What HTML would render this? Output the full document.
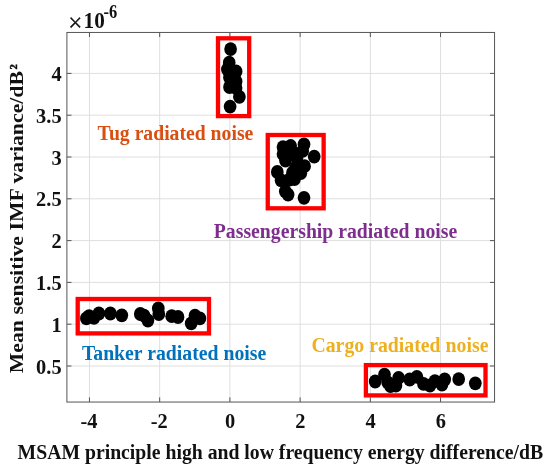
<!DOCTYPE html>
<html><head><meta charset="utf-8"><title>chart</title>
<style>
html,body{margin:0;padding:0;background:#fff;}
body{width:550px;height:470px;overflow:hidden;}
svg{display:block;}
text{font-family:"Liberation Serif","Times New Roman",serif;font-weight:bold;}
</style></head><body>
<svg width="550" height="470" viewBox="0 0 550 470">
<rect x="0" y="0" width="550" height="470" fill="#ffffff"/>
<g stroke="#dfdfdf" stroke-width="1" fill="none">
<line x1="89.46" y1="32.45" x2="89.46" y2="402.0"/>
<line x1="159.68" y1="32.45" x2="159.68" y2="402.0"/>
<line x1="229.9" y1="32.45" x2="229.9" y2="402.0"/>
<line x1="300.11" y1="32.45" x2="300.11" y2="402.0"/>
<line x1="370.33" y1="32.45" x2="370.33" y2="402.0"/>
<line x1="440.55" y1="32.45" x2="440.55" y2="402.0"/>
<line x1="66.9" y1="366.0" x2="494.55" y2="366.0"/>
<line x1="66.9" y1="324.2" x2="494.55" y2="324.2"/>
<line x1="66.9" y1="282.4" x2="494.55" y2="282.4"/>
<line x1="66.9" y1="240.6" x2="494.55" y2="240.6"/>
<line x1="66.9" y1="198.8" x2="494.55" y2="198.8"/>
<line x1="66.9" y1="157.0" x2="494.55" y2="157.0"/>
<line x1="66.9" y1="115.2" x2="494.55" y2="115.2"/>
<line x1="66.9" y1="73.4" x2="494.55" y2="73.4"/>
</g>
<rect x="66.9" y="32.45" width="427.65" height="369.6" fill="none" stroke="#555555" stroke-width="1"/>
<g stroke="#555555" stroke-width="1">
<line x1="89.46" y1="402.0" x2="89.46" y2="397.4"/><line x1="89.46" y1="32.45" x2="89.46" y2="37.050000000000004"/>
<line x1="159.68" y1="402.0" x2="159.68" y2="397.4"/><line x1="159.68" y1="32.45" x2="159.68" y2="37.050000000000004"/>
<line x1="229.9" y1="402.0" x2="229.9" y2="397.4"/><line x1="229.9" y1="32.45" x2="229.9" y2="37.050000000000004"/>
<line x1="300.11" y1="402.0" x2="300.11" y2="397.4"/><line x1="300.11" y1="32.45" x2="300.11" y2="37.050000000000004"/>
<line x1="370.33" y1="402.0" x2="370.33" y2="397.4"/><line x1="370.33" y1="32.45" x2="370.33" y2="37.050000000000004"/>
<line x1="440.55" y1="402.0" x2="440.55" y2="397.4"/><line x1="440.55" y1="32.45" x2="440.55" y2="37.050000000000004"/>
<line x1="66.9" y1="366.0" x2="71.5" y2="366.0"/><line x1="494.55" y1="366.0" x2="489.95" y2="366.0"/>
<line x1="66.9" y1="324.2" x2="71.5" y2="324.2"/><line x1="494.55" y1="324.2" x2="489.95" y2="324.2"/>
<line x1="66.9" y1="282.4" x2="71.5" y2="282.4"/><line x1="494.55" y1="282.4" x2="489.95" y2="282.4"/>
<line x1="66.9" y1="240.6" x2="71.5" y2="240.6"/><line x1="494.55" y1="240.6" x2="489.95" y2="240.6"/>
<line x1="66.9" y1="198.8" x2="71.5" y2="198.8"/><line x1="494.55" y1="198.8" x2="489.95" y2="198.8"/>
<line x1="66.9" y1="157.0" x2="71.5" y2="157.0"/><line x1="494.55" y1="157.0" x2="489.95" y2="157.0"/>
<line x1="66.9" y1="115.2" x2="71.5" y2="115.2"/><line x1="494.55" y1="115.2" x2="489.95" y2="115.2"/>
<line x1="66.9" y1="73.4" x2="71.5" y2="73.4"/><line x1="494.55" y1="73.4" x2="489.95" y2="73.4"/>
</g>
<g fill="none" stroke="#fe0000" stroke-width="4.3">
<rect x="218.0" y="38.3" width="31.2" height="77.8"/>
<rect x="267.75" y="135.0" width="55.9" height="73.3"/>
<rect x="77.7" y="299.0" width="131.3" height="34.4"/>
<rect x="365.9" y="365.1" width="119.6" height="30.3"/>
</g>
<g fill="#000">
<ellipse cx="230.6" cy="49.1" rx="6.35" ry="6.9"/>
<ellipse cx="229.2" cy="62.7" rx="6.35" ry="6.9"/>
<ellipse cx="227.4" cy="69.3" rx="6.35" ry="6.9"/>
<ellipse cx="236.1" cy="71.5" rx="6.35" ry="6.9"/>
<ellipse cx="229.5" cy="77.5" rx="6.35" ry="6.9"/>
<ellipse cx="236.1" cy="81.5" rx="6.35" ry="6.9"/>
<ellipse cx="229.5" cy="87.0" rx="6.35" ry="6.9"/>
<ellipse cx="236.1" cy="88.1" rx="6.35" ry="6.9"/>
<ellipse cx="239.4" cy="96.8" rx="6.35" ry="6.9"/>
<ellipse cx="230.1" cy="106.6" rx="6.35" ry="6.9"/>
<ellipse cx="293.2" cy="152.4" rx="6.35" ry="6.9"/>
<ellipse cx="283.0" cy="147.1" rx="6.35" ry="6.9"/>
<ellipse cx="290.6" cy="145.8" rx="6.35" ry="6.9"/>
<ellipse cx="304.0" cy="144.5" rx="6.35" ry="6.9"/>
<ellipse cx="283.0" cy="154.1" rx="6.35" ry="6.9"/>
<ellipse cx="302.7" cy="150.9" rx="6.35" ry="6.9"/>
<ellipse cx="314.2" cy="156.6" rx="6.35" ry="6.9"/>
<ellipse cx="285.5" cy="160.5" rx="6.35" ry="6.9"/>
<ellipse cx="297.0" cy="157.9" rx="6.35" ry="6.9"/>
<ellipse cx="304.6" cy="166.2" rx="6.35" ry="6.9"/>
<ellipse cx="295.7" cy="167.5" rx="6.35" ry="6.9"/>
<ellipse cx="277.3" cy="172.0" rx="6.35" ry="6.9"/>
<ellipse cx="300.8" cy="173.2" rx="6.35" ry="6.9"/>
<ellipse cx="292.5" cy="172.6" rx="6.35" ry="6.9"/>
<ellipse cx="281.1" cy="180.3" rx="6.35" ry="6.9"/>
<ellipse cx="294.5" cy="179.0" rx="6.35" ry="6.9"/>
<ellipse cx="285.3" cy="191.3" rx="6.35" ry="6.9"/>
<ellipse cx="288.1" cy="194.6" rx="6.35" ry="6.9"/>
<ellipse cx="289.6" cy="179.5" rx="6.35" ry="6.9"/>
<ellipse cx="304.0" cy="197.8" rx="6.35" ry="6.9"/>
<ellipse cx="86.4" cy="318.4" rx="6.35" ry="6.9"/>
<ellipse cx="89.1" cy="316.2" rx="6.35" ry="6.9"/>
<ellipse cx="94.0" cy="317.8" rx="6.35" ry="6.9"/>
<ellipse cx="98.9" cy="313.5" rx="6.35" ry="6.9"/>
<ellipse cx="110.4" cy="313.5" rx="6.35" ry="6.9"/>
<ellipse cx="121.8" cy="315.3" rx="6.35" ry="6.9"/>
<ellipse cx="140.3" cy="314.0" rx="6.35" ry="6.9"/>
<ellipse cx="144.1" cy="315.6" rx="6.35" ry="6.9"/>
<ellipse cx="147.9" cy="320.5" rx="6.35" ry="6.9"/>
<ellipse cx="158.3" cy="308.5" rx="6.35" ry="6.9"/>
<ellipse cx="158.8" cy="314.0" rx="6.35" ry="6.9"/>
<ellipse cx="171.7" cy="316.2" rx="6.35" ry="6.9"/>
<ellipse cx="178.0" cy="317.0" rx="6.35" ry="6.9"/>
<ellipse cx="191.2" cy="323.3" rx="6.35" ry="6.9"/>
<ellipse cx="195.0" cy="315.6" rx="6.35" ry="6.9"/>
<ellipse cx="199.9" cy="318.4" rx="6.35" ry="6.9"/>
<ellipse cx="375.2" cy="381.5" rx="6.35" ry="6.9"/>
<ellipse cx="384.5" cy="374.6" rx="6.35" ry="6.9"/>
<ellipse cx="387.7" cy="382.3" rx="6.35" ry="6.9"/>
<ellipse cx="390.5" cy="386.1" rx="6.35" ry="6.9"/>
<ellipse cx="395.9" cy="385.5" rx="6.35" ry="6.9"/>
<ellipse cx="398.6" cy="377.9" rx="6.35" ry="6.9"/>
<ellipse cx="409.7" cy="379.5" rx="6.35" ry="6.9"/>
<ellipse cx="416.9" cy="376.8" rx="6.35" ry="6.9"/>
<ellipse cx="423.5" cy="383.9" rx="6.35" ry="6.9"/>
<ellipse cx="430.0" cy="385.5" rx="6.35" ry="6.9"/>
<ellipse cx="434.9" cy="381.2" rx="6.35" ry="6.9"/>
<ellipse cx="442.0" cy="384.5" rx="6.35" ry="6.9"/>
<ellipse cx="444.7" cy="379.5" rx="6.35" ry="6.9"/>
<ellipse cx="458.7" cy="379.1" rx="6.35" ry="6.9"/>
<ellipse cx="475.3" cy="383.3" rx="6.35" ry="6.9"/>
</g>
<text transform="translate(88.96,427.9) scale(1,1.06)" text-anchor="middle" fill="#111111" font-size="20.4">-4</text>
<text transform="translate(159.18,427.9) scale(1,1.06)" text-anchor="middle" fill="#111111" font-size="20.4">-2</text>
<text transform="translate(230.20000000000002,427.9) scale(1,1.06)" text-anchor="middle" fill="#111111" font-size="20.4">0</text>
<text transform="translate(300.41,427.9) scale(1,1.06)" text-anchor="middle" fill="#111111" font-size="20.4">2</text>
<text transform="translate(370.63,427.9) scale(1,1.06)" text-anchor="middle" fill="#111111" font-size="20.4">4</text>
<text transform="translate(440.85,427.9) scale(1,1.06)" text-anchor="middle" fill="#111111" font-size="20.4">6</text>
<text transform="translate(61.6,373.6) scale(1,1.07)" text-anchor="end" fill="#111111" font-size="20.4">0.5</text>
<text transform="translate(61.6,331.8) scale(1,1.07)" text-anchor="end" fill="#111111" font-size="20.4">1</text>
<text transform="translate(61.6,290.0) scale(1,1.07)" text-anchor="end" fill="#111111" font-size="20.4">1.5</text>
<text transform="translate(61.6,248.2) scale(1,1.07)" text-anchor="end" fill="#111111" font-size="20.4">2</text>
<text transform="translate(61.6,206.4) scale(1,1.07)" text-anchor="end" fill="#111111" font-size="20.4">2.5</text>
<text transform="translate(61.6,164.6) scale(1,1.07)" text-anchor="end" fill="#111111" font-size="20.4">3</text>
<text transform="translate(61.6,122.8) scale(1,1.07)" text-anchor="end" fill="#111111" font-size="20.4">3.5</text>
<text transform="translate(61.6,81.0) scale(1,1.07)" text-anchor="end" fill="#111111" font-size="20.4">4</text>
<text transform="translate(68.2,30.5) scale(1,1.0)" text-anchor="start" fill="#111111" font-size="25" style="font-weight:normal" stroke="#111" stroke-width="0.3">×</text>
<text transform="translate(83.6,27.7) scale(1,1.05)" text-anchor="start" fill="#111111" font-size="21.2">10</text>
<text transform="translate(103.5,18.0) scale(1,1.086)" text-anchor="start" fill="#111111" font-size="16.5">-6</text>
<text transform="translate(97.6,139.8) scale(1,1.086)" text-anchor="start" fill="#d94f12" font-size="19.7">Tug radiated noise</text>
<text transform="translate(213.8,238.3) scale(1.002,1.086)" text-anchor="start" fill="#7e2f8e" font-size="19.7">Passengership radiated noise</text>
<text transform="translate(81.9,359.5) scale(1.003,1.086)" text-anchor="start" fill="#0072bd" font-size="19.7">Tanker radiated noise</text>
<text transform="translate(311.4,351.5) scale(1.005,1.086)" text-anchor="start" fill="#edb120" font-size="19.7">Cargo radiated noise</text>
<text transform="translate(17.6,458.5) scale(1.0015,1.086)" text-anchor="start" fill="#111111" font-size="19.7">MSAM principle high and low frequency energy difference/dB</text>
<text transform="translate(22.5,373.3) rotate(-90) scale(1.106,1.0)" text-anchor="start" fill="#111111" font-size="19.7">Mean sensitive IMF variance/dB<tspan font-size="15.8" dy="-1.4" dx="1.3" stroke="#111" stroke-width="0.5">²</tspan></text>
</svg></body></html>
